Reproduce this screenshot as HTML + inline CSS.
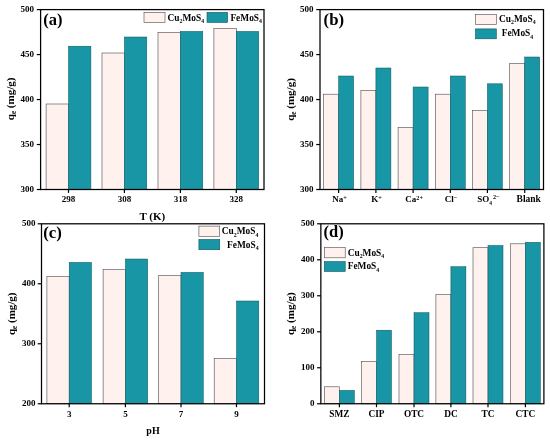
<!DOCTYPE html>
<html><head><meta charset="utf-8"><title>Figure</title>
<style>
html,body{margin:0;padding:0;background:#fff;}
svg{display:block;}
svg text{font-family:"Liberation Serif", "Times New Roman", serif;font-weight:bold;fill:#000;}
</style></head><body>
<svg width="550" height="442" viewBox="0 0 550 442">
<rect width="550" height="442" fill="#fff"/>
<rect x="46.10" y="104.00" width="22.40" height="85.50" fill="#fef1ee" stroke="#4d4a4a" stroke-width="0.6"/>
<rect x="68.50" y="46.20" width="22.40" height="143.30" fill="#1896a5" stroke="#0d545d" stroke-width="0.5"/>
<rect x="102.00" y="53.00" width="22.40" height="136.50" fill="#fef1ee" stroke="#4d4a4a" stroke-width="0.6"/>
<rect x="124.40" y="37.00" width="22.40" height="152.50" fill="#1896a5" stroke="#0d545d" stroke-width="0.5"/>
<rect x="158.00" y="32.40" width="22.40" height="157.10" fill="#fef1ee" stroke="#4d4a4a" stroke-width="0.6"/>
<rect x="180.40" y="31.40" width="22.40" height="158.10" fill="#1896a5" stroke="#0d545d" stroke-width="0.5"/>
<rect x="213.90" y="28.40" width="22.40" height="161.10" fill="#fef1ee" stroke="#4d4a4a" stroke-width="0.6"/>
<rect x="236.30" y="31.40" width="22.40" height="158.10" fill="#1896a5" stroke="#0d545d" stroke-width="0.5"/>
<rect x="40.6" y="9.6" width="223.40" height="179.90" fill="none" stroke="#000" stroke-width="1.25"/>
<line x1="36.80" y1="189.50" x2="40.6" y2="189.50" stroke="#000" stroke-width="1.2"/>
<text x="34.00" y="192.00" font-size="9" text-anchor="end">300</text>
<line x1="36.80" y1="144.53" x2="40.6" y2="144.53" stroke="#000" stroke-width="1.2"/>
<text x="34.00" y="147.03" font-size="9" text-anchor="end">350</text>
<line x1="36.80" y1="99.55" x2="40.6" y2="99.55" stroke="#000" stroke-width="1.2"/>
<text x="34.00" y="102.05" font-size="9" text-anchor="end">400</text>
<line x1="36.80" y1="54.57" x2="40.6" y2="54.57" stroke="#000" stroke-width="1.2"/>
<text x="34.00" y="57.07" font-size="9" text-anchor="end">450</text>
<line x1="36.80" y1="9.60" x2="40.6" y2="9.60" stroke="#000" stroke-width="1.2"/>
<text x="34.00" y="12.10" font-size="9" text-anchor="end">500</text>
<line x1="68.50" y1="189.5" x2="68.50" y2="192.90" stroke="#000" stroke-width="1.2"/>
<text x="68.50" y="202.40" font-size="9" text-anchor="middle">298</text>
<line x1="124.40" y1="189.5" x2="124.40" y2="192.90" stroke="#000" stroke-width="1.2"/>
<text x="124.40" y="202.40" font-size="9" text-anchor="middle">308</text>
<line x1="180.40" y1="189.5" x2="180.40" y2="192.90" stroke="#000" stroke-width="1.2"/>
<text x="180.40" y="202.40" font-size="9" text-anchor="middle">318</text>
<line x1="236.30" y1="189.5" x2="236.30" y2="192.90" stroke="#000" stroke-width="1.2"/>
<text x="236.30" y="202.40" font-size="9" text-anchor="middle">328</text>
<text transform="translate(13.8,98.9) rotate(-90)" font-size="11" text-anchor="middle">q<tspan font-size="7.2" dy="2">e</tspan><tspan dy="-2"> (mg/g)</tspan></text>
<text x="152.3" y="219.6" font-size="11" text-anchor="middle">T (K)</text>
<text x="43.2" y="25" font-size="16.5">(a)</text>
<rect x="144" y="12.4" width="21" height="10" fill="#fef1ee" stroke="#4d4a4a" stroke-width="0.6"/>
<text x="167.6" y="20.9" font-size="9.4" text-anchor="start">Cu<tspan font-size="5.8" dy="2.4">2</tspan><tspan dy="-2.4">MoS</tspan><tspan font-size="5.8" dy="2.4">4</tspan></text>
<rect x="207" y="12.4" width="20.6" height="10" fill="#1896a5" stroke="#0d545d" stroke-width="0.6"/>
<text x="230.4" y="20.9" font-size="9.4" text-anchor="start">FeMoS<tspan font-size="5.8" dy="2.4">4</tspan></text>
<rect x="323.60" y="94.20" width="15.00" height="95.30" fill="#fef1ee" stroke="#4d4a4a" stroke-width="0.6"/>
<rect x="338.60" y="76.00" width="15.00" height="113.50" fill="#1896a5" stroke="#0d545d" stroke-width="0.5"/>
<rect x="360.90" y="90.40" width="15.00" height="99.10" fill="#fef1ee" stroke="#4d4a4a" stroke-width="0.6"/>
<rect x="375.90" y="68.00" width="15.00" height="121.50" fill="#1896a5" stroke="#0d545d" stroke-width="0.5"/>
<rect x="398.10" y="127.40" width="15.00" height="62.10" fill="#fef1ee" stroke="#4d4a4a" stroke-width="0.6"/>
<rect x="413.10" y="87.00" width="15.00" height="102.50" fill="#1896a5" stroke="#0d545d" stroke-width="0.5"/>
<rect x="435.30" y="94.20" width="15.00" height="95.30" fill="#fef1ee" stroke="#4d4a4a" stroke-width="0.6"/>
<rect x="450.30" y="76.00" width="15.00" height="113.50" fill="#1896a5" stroke="#0d545d" stroke-width="0.5"/>
<rect x="472.40" y="110.40" width="15.00" height="79.10" fill="#fef1ee" stroke="#4d4a4a" stroke-width="0.6"/>
<rect x="487.40" y="83.80" width="15.00" height="105.70" fill="#1896a5" stroke="#0d545d" stroke-width="0.5"/>
<rect x="509.70" y="63.50" width="15.00" height="126.00" fill="#fef1ee" stroke="#4d4a4a" stroke-width="0.6"/>
<rect x="524.70" y="57.00" width="15.00" height="132.50" fill="#1896a5" stroke="#0d545d" stroke-width="0.5"/>
<rect x="320.0" y="9.6" width="223.50" height="179.90" fill="none" stroke="#000" stroke-width="1.25"/>
<line x1="316.20" y1="189.50" x2="320.0" y2="189.50" stroke="#000" stroke-width="1.2"/>
<text x="313.40" y="192.00" font-size="9" text-anchor="end">300</text>
<line x1="316.20" y1="144.53" x2="320.0" y2="144.53" stroke="#000" stroke-width="1.2"/>
<text x="313.40" y="147.03" font-size="9" text-anchor="end">350</text>
<line x1="316.20" y1="99.55" x2="320.0" y2="99.55" stroke="#000" stroke-width="1.2"/>
<text x="313.40" y="102.05" font-size="9" text-anchor="end">400</text>
<line x1="316.20" y1="54.57" x2="320.0" y2="54.57" stroke="#000" stroke-width="1.2"/>
<text x="313.40" y="57.07" font-size="9" text-anchor="end">450</text>
<line x1="316.20" y1="9.60" x2="320.0" y2="9.60" stroke="#000" stroke-width="1.2"/>
<text x="313.40" y="12.10" font-size="9" text-anchor="end">500</text>
<line x1="338.60" y1="189.5" x2="338.60" y2="192.90" stroke="#000" stroke-width="1.2"/>
<text x="339.60" y="202.40" font-size="9" text-anchor="middle">Na<tspan font-size="6.2" dy="-2.9">+</tspan></text>
<line x1="375.90" y1="189.5" x2="375.90" y2="192.90" stroke="#000" stroke-width="1.2"/>
<text x="376.40" y="202.40" font-size="9" text-anchor="middle">K<tspan font-size="6.2" dy="-2.9">+</tspan></text>
<line x1="413.10" y1="189.5" x2="413.10" y2="192.90" stroke="#000" stroke-width="1.2"/>
<text x="414.10" y="202.40" font-size="9" text-anchor="middle">Ca<tspan font-size="6.2" dy="-2.9">2+</tspan></text>
<line x1="450.30" y1="189.5" x2="450.30" y2="192.90" stroke="#000" stroke-width="1.2"/>
<text x="451.10" y="202.40" font-size="9" text-anchor="middle">Cl<tspan font-size="6.2" dy="-2.9">−</tspan></text>
<line x1="487.40" y1="189.5" x2="487.40" y2="192.90" stroke="#000" stroke-width="1.2"/>
<text x="488.40" y="202.40" font-size="9" text-anchor="middle">SO<tspan font-size="5.5" dy="2.2">4</tspan><tspan font-size="6.2" dy="-5.2" dx="1">2−</tspan></text>
<line x1="524.70" y1="189.5" x2="524.70" y2="192.90" stroke="#000" stroke-width="1.2"/>
<text x="528.70" y="202.40" font-size="9" text-anchor="middle"><tspan font-size="9.5">Blank</tspan></text>
<text transform="translate(294.2,99.5) rotate(-90)" font-size="11" text-anchor="middle">q<tspan font-size="7.2" dy="2">e</tspan><tspan dy="-2"> (mg/g)</tspan></text>
<text x="323.6" y="25" font-size="16.8">(b)</text>
<rect x="475.5" y="14.5" width="20.8" height="10" fill="#fef1ee" stroke="#4d4a4a" stroke-width="0.6"/>
<text x="499" y="21.8" font-size="9.4" text-anchor="start">Cu<tspan font-size="5.8" dy="2.4">2</tspan><tspan dy="-2.4">MoS</tspan><tspan font-size="5.8" dy="2.4">4</tspan></text>
<rect x="475.5" y="28.9" width="20.8" height="9.9" fill="#1896a5" stroke="#0d545d" stroke-width="0.6"/>
<text x="501.7" y="36.1" font-size="9.4" text-anchor="start">FeMoS<tspan font-size="5.8" dy="2.4">4</tspan></text>
<rect x="46.90" y="276.40" width="22.30" height="127.35" fill="#fef1ee" stroke="#4d4a4a" stroke-width="0.6"/>
<rect x="69.20" y="262.40" width="22.30" height="141.35" fill="#1896a5" stroke="#0d545d" stroke-width="0.5"/>
<rect x="103.10" y="269.40" width="22.30" height="134.35" fill="#fef1ee" stroke="#4d4a4a" stroke-width="0.6"/>
<rect x="125.40" y="259.00" width="22.30" height="144.75" fill="#1896a5" stroke="#0d545d" stroke-width="0.5"/>
<rect x="158.70" y="275.30" width="22.30" height="128.45" fill="#fef1ee" stroke="#4d4a4a" stroke-width="0.6"/>
<rect x="181.00" y="272.40" width="22.30" height="131.35" fill="#1896a5" stroke="#0d545d" stroke-width="0.5"/>
<rect x="214.20" y="358.40" width="22.30" height="45.35" fill="#fef1ee" stroke="#4d4a4a" stroke-width="0.6"/>
<rect x="236.50" y="301.00" width="22.30" height="102.75" fill="#1896a5" stroke="#0d545d" stroke-width="0.5"/>
<rect x="41.5" y="223.8" width="223.00" height="179.95" fill="none" stroke="#000" stroke-width="1.25"/>
<line x1="37.70" y1="403.75" x2="41.5" y2="403.75" stroke="#000" stroke-width="1.2"/>
<text x="35.40" y="406.25" font-size="9" text-anchor="end">200</text>
<line x1="37.70" y1="343.77" x2="41.5" y2="343.77" stroke="#000" stroke-width="1.2"/>
<text x="35.40" y="346.27" font-size="9" text-anchor="end">300</text>
<line x1="37.70" y1="283.78" x2="41.5" y2="283.78" stroke="#000" stroke-width="1.2"/>
<text x="35.40" y="286.28" font-size="9" text-anchor="end">400</text>
<line x1="37.70" y1="223.80" x2="41.5" y2="223.80" stroke="#000" stroke-width="1.2"/>
<text x="35.40" y="226.30" font-size="9" text-anchor="end">500</text>
<line x1="69.20" y1="403.75" x2="69.20" y2="407.15" stroke="#000" stroke-width="1.2"/>
<text x="69.20" y="416.65" font-size="9" text-anchor="middle">3</text>
<line x1="125.40" y1="403.75" x2="125.40" y2="407.15" stroke="#000" stroke-width="1.2"/>
<text x="125.40" y="416.65" font-size="9" text-anchor="middle">5</text>
<line x1="181.00" y1="403.75" x2="181.00" y2="407.15" stroke="#000" stroke-width="1.2"/>
<text x="181.00" y="416.65" font-size="9" text-anchor="middle">7</text>
<line x1="236.50" y1="403.75" x2="236.50" y2="407.15" stroke="#000" stroke-width="1.2"/>
<text x="236.50" y="416.65" font-size="9" text-anchor="middle">9</text>
<text transform="translate(14.8,313.8) rotate(-90)" font-size="11" text-anchor="middle">q<tspan font-size="7.2" dy="2">e</tspan><tspan dy="-2"> (mg/g)</tspan></text>
<text x="153" y="434" font-size="10" text-anchor="middle">pH</text>
<text x="43.2" y="238.4" font-size="16.8">(c)</text>
<rect x="198.9" y="226.1" width="20.8" height="10.2" fill="#fef1ee" stroke="#4d4a4a" stroke-width="0.6"/>
<text x="221.8" y="234.3" font-size="9.4" text-anchor="start">Cu<tspan font-size="5.8" dy="2.4">2</tspan><tspan dy="-2.4">MoS</tspan><tspan font-size="5.8" dy="2.4">4</tspan></text>
<rect x="198.9" y="239.5" width="20.8" height="10.2" fill="#1896a5" stroke="#0d545d" stroke-width="0.6"/>
<text x="227" y="247.7" font-size="9.4" text-anchor="start">FeMoS<tspan font-size="5.8" dy="2.4">4</tspan></text>
<rect x="324.40" y="386.80" width="15.00" height="16.95" fill="#fef1ee" stroke="#4d4a4a" stroke-width="0.6"/>
<rect x="339.40" y="390.40" width="15.00" height="13.35" fill="#1896a5" stroke="#0d545d" stroke-width="0.5"/>
<rect x="361.50" y="361.30" width="15.00" height="42.45" fill="#fef1ee" stroke="#4d4a4a" stroke-width="0.6"/>
<rect x="376.50" y="330.20" width="15.00" height="73.55" fill="#1896a5" stroke="#0d545d" stroke-width="0.5"/>
<rect x="399.00" y="354.40" width="15.00" height="49.35" fill="#fef1ee" stroke="#4d4a4a" stroke-width="0.6"/>
<rect x="414.00" y="312.70" width="15.00" height="91.05" fill="#1896a5" stroke="#0d545d" stroke-width="0.5"/>
<rect x="435.90" y="294.60" width="15.00" height="109.15" fill="#fef1ee" stroke="#4d4a4a" stroke-width="0.6"/>
<rect x="450.90" y="266.70" width="15.00" height="137.05" fill="#1896a5" stroke="#0d545d" stroke-width="0.5"/>
<rect x="473.00" y="247.70" width="15.00" height="156.05" fill="#fef1ee" stroke="#4d4a4a" stroke-width="0.6"/>
<rect x="488.00" y="245.50" width="15.00" height="158.25" fill="#1896a5" stroke="#0d545d" stroke-width="0.5"/>
<rect x="510.40" y="243.80" width="15.00" height="159.95" fill="#fef1ee" stroke="#4d4a4a" stroke-width="0.6"/>
<rect x="525.40" y="242.30" width="15.00" height="161.45" fill="#1896a5" stroke="#0d545d" stroke-width="0.5"/>
<rect x="320.85" y="223.8" width="223.05" height="179.95" fill="none" stroke="#000" stroke-width="1.25"/>
<line x1="317.05" y1="403.75" x2="320.85" y2="403.75" stroke="#000" stroke-width="1.2"/>
<text x="314.55" y="406.25" font-size="9" text-anchor="end">0</text>
<line x1="317.05" y1="367.76" x2="320.85" y2="367.76" stroke="#000" stroke-width="1.2"/>
<text x="314.55" y="370.26" font-size="9" text-anchor="end">100</text>
<line x1="317.05" y1="331.77" x2="320.85" y2="331.77" stroke="#000" stroke-width="1.2"/>
<text x="314.55" y="334.27" font-size="9" text-anchor="end">200</text>
<line x1="317.05" y1="295.78" x2="320.85" y2="295.78" stroke="#000" stroke-width="1.2"/>
<text x="314.55" y="298.28" font-size="9" text-anchor="end">300</text>
<line x1="317.05" y1="259.79" x2="320.85" y2="259.79" stroke="#000" stroke-width="1.2"/>
<text x="314.55" y="262.29" font-size="9" text-anchor="end">400</text>
<line x1="317.05" y1="223.80" x2="320.85" y2="223.80" stroke="#000" stroke-width="1.2"/>
<text x="314.55" y="226.30" font-size="9" text-anchor="end">500</text>
<line x1="339.40" y1="403.75" x2="339.40" y2="407.15" stroke="#000" stroke-width="1.2"/>
<text x="339.40" y="416.65" font-size="9.3" text-anchor="middle">SMZ</text>
<line x1="376.50" y1="403.75" x2="376.50" y2="407.15" stroke="#000" stroke-width="1.2"/>
<text x="376.50" y="416.65" font-size="9.3" text-anchor="middle">CIP</text>
<line x1="414.00" y1="403.75" x2="414.00" y2="407.15" stroke="#000" stroke-width="1.2"/>
<text x="414.00" y="416.65" font-size="9.3" text-anchor="middle">OTC</text>
<line x1="450.90" y1="403.75" x2="450.90" y2="407.15" stroke="#000" stroke-width="1.2"/>
<text x="450.90" y="416.65" font-size="9.3" text-anchor="middle">DC</text>
<line x1="488.00" y1="403.75" x2="488.00" y2="407.15" stroke="#000" stroke-width="1.2"/>
<text x="488.00" y="416.65" font-size="9.3" text-anchor="middle">TC</text>
<line x1="525.40" y1="403.75" x2="525.40" y2="407.15" stroke="#000" stroke-width="1.2"/>
<text x="525.40" y="416.65" font-size="9.3" text-anchor="middle">CTC</text>
<text transform="translate(294.2,313.7) rotate(-90)" font-size="11" text-anchor="middle">q<tspan font-size="7.2" dy="2">e</tspan><tspan dy="-2"> (mg/g)</tspan></text>
<text x="323.5" y="237.4" font-size="16.5">(d)</text>
<rect x="324.3" y="247.6" width="20.9" height="10.2" fill="#fef1ee" stroke="#4d4a4a" stroke-width="0.6"/>
<text x="347.7" y="255.8" font-size="9.4" text-anchor="start">Cu<tspan font-size="5.8" dy="2.4">2</tspan><tspan dy="-2.4">MoS</tspan><tspan font-size="5.8" dy="2.4">4</tspan></text>
<rect x="324.3" y="261.6" width="20.9" height="9.8" fill="#1896a5" stroke="#0d545d" stroke-width="0.6"/>
<text x="347.7" y="269.2" font-size="9.4" text-anchor="start">FeMoS<tspan font-size="5.8" dy="2.4">4</tspan></text>
</svg>
</body></html>
